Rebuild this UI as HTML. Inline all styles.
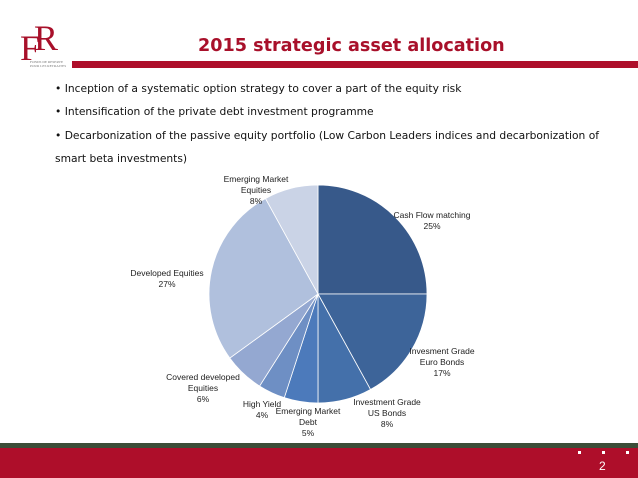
<!DOCTYPE html>
<html><head><meta charset="utf-8"><style>
body{margin:0;width:638px;height:478px;position:relative;background:#fff;font-family:"Liberation Sans",sans-serif;overflow:hidden}
.b{position:absolute;left:0;font-size:10.7px;color:#111;font-family:"DejaVu Sans","Liberation Sans",sans-serif;white-space:nowrap}
.lbl{font-size:8.5px;fill:#222;font-family:"Liberation Sans",sans-serif}
.dot{position:absolute;top:451px;width:3px;height:3px;background:#fff}
</style></head><body>
<div style="position:absolute;left:20px;top:20px;width:50px;height:50px;font-family:'Liberation Serif',serif;color:#a8102a">
<span style="position:absolute;left:0px;top:10px;font-size:36px;line-height:36px">F</span><span style="position:absolute;left:14px;top:0px;font-size:36px;line-height:36px">R</span>
<span style="position:absolute;left:10px;top:40px;font-size:3.5px;color:#777;line-height:4px">FONDS DE RESERVE<br>POUR LES RETRAITES</span></div>
<div style="position:absolute;left:198px;top:36px;font-size:17.6px;font-weight:bold;color:#a8102a;font-family:'DejaVu Sans',sans-serif;white-space:nowrap">2015 strategic asset allocation</div>
<div style="position:absolute;left:72px;top:61px;width:566px;height:7px;background:#ae0e2a"></div>
<div class="b" style="left:55px;top:82px">• Inception of a systematic option strategy to cover a part of the equity risk</div>
<div class="b" style="left:55px;top:105px">• Intensification of the private debt investment programme</div>
<div class="b" style="left:55px;top:129px">• Decarbonization of the passive equity portfolio (Low Carbon Leaders indices and decarbonization of</div>
<div class="b" style="left:55px;top:152px">smart beta investments)</div>
<svg id="pie" width="638" height="478" style="position:absolute;left:0;top:0"></svg>
<div style="position:absolute;left:0;top:443px;width:638px;height:5px;background:#3b4d38"></div>
<div style="position:absolute;left:0;top:448px;width:638px;height:30px;background:#ae0e2a"></div>
<div class="dot" style="left:578px"></div>
<div class="dot" style="left:602px"></div>
<div class="dot" style="left:626px"></div>
<div style="position:absolute;left:599px;top:459px;color:#fff;font-size:12px">2</div>
<script>
const categories=["Cash Flow matching","Invesment Grade Euro Bonds","Investment Grade US Bonds","Emerging Market Debt","High Yield","Covered developed Equities","Developed Equities","Emerging Market Equities"];
const values=[25,17,8,5,4,6,27,8];
const colors=["#37598a","#3d6499","#4470aa","#4c7abb","#6e8fc4","#94a8d1","#b0c0dd","#cad3e6"];
const labelLines=[["Cash Flow matching","25%"],["Invesment Grade","Euro Bonds","17%"],["Investment Grade","US Bonds","8%"],["Emerging Market","Debt","5%"],["High Yield","4%"],["Covered developed","Equities","6%"],["Developed Equities","27%"],["Emerging Market","Equities","8%"]];
const labelPos=[[432,218],[442,354],[387,405],[308,414],[262,407],[203,380],[167,276],[256,182]];
const svg=document.getElementById('pie');const NS='http://www.w3.org/2000/svg';
const cx=318,cy=294,r=109;const total=values.reduce((a,b)=>a+b,0);
let a0=-Math.PI/2;
values.forEach((v,i)=>{const a1=a0+v/total*2*Math.PI;
const x0=cx+r*Math.cos(a0),y0=cy+r*Math.sin(a0),x1=cx+r*Math.cos(a1),y1=cy+r*Math.sin(a1);
const p=document.createElementNS(NS,'path');
p.setAttribute('d',`M${cx},${cy}L${x0},${y0}A${r},${r} 0 ${a1-a0>Math.PI?1:0} 1 ${x1},${y1}Z`);
p.setAttribute('fill',colors[i]);p.setAttribute('stroke','#fff');p.setAttribute('stroke-width','0.8');


svg.appendChild(p);a0=a1;
const t=document.createElementNS(NS,'text');t.setAttribute('class','lbl');t.setAttribute('text-anchor','middle');


labelLines[i].forEach((s,j)=>{const ts=document.createElementNS(NS,'tspan');ts.setAttribute('x',labelPos[i][0]);ts.setAttribute('y',labelPos[i][1]+j*11);ts.textContent=s;t.appendChild(ts);});
svg.appendChild(t);});
</script>
</body></html>
